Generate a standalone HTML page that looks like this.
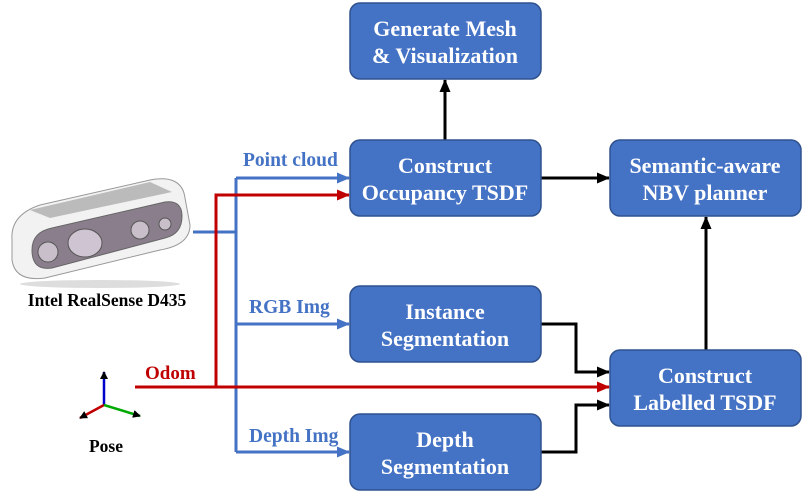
<!DOCTYPE html>
<html><head><meta charset="utf-8"><style>
html,body{margin:0;padding:0;background:#fff;width:807px;height:495px;overflow:hidden}
svg{display:block}
.bx{fill:#4472C4;stroke:#2F528F;stroke-width:1.5}
.t{font-family:"Liberation Serif",serif;font-weight:bold;font-size:22px;fill:#fff;text-anchor:middle}
.l{font-family:"Liberation Serif",serif;font-weight:bold;font-size:19.5px;fill:#4472C4}
.k{font-family:"Liberation Serif",serif;font-weight:bold;font-size:17.5px;fill:#000;text-anchor:middle}
</style></head><body>
<svg width="807" height="495" viewBox="0 0 807 495">
<defs>
<marker id="ab" markerWidth="8" markerHeight="8" refX="7" refY="4" orient="auto" markerUnits="userSpaceOnUse"><path d="M0,0L8,4L0,8z" fill="#000"/></marker>
<marker id="ar" markerWidth="13" markerHeight="11" refX="12" refY="5.5" orient="auto" markerUnits="userSpaceOnUse"><path d="M0,0L13,5.5L0,11z" fill="#C00000"/></marker>
<marker id="au" markerWidth="13" markerHeight="11" refX="12" refY="5.5" orient="auto" markerUnits="userSpaceOnUse"><path d="M0,0L13,5.5L0,11z" fill="#4472C4"/></marker>
<marker id="ak" markerWidth="13" markerHeight="11" refX="12" refY="5.5" orient="auto" markerUnits="userSpaceOnUse"><path d="M0,0L13,5.5L0,11z" fill="#000"/></marker>
</defs>
<g>
<path d="M12,240 Q10,215 40,205 L150,180 Q182,174 185,198 L190,225 Q190,245 160,250 L45,278 Q15,282 12,260 Z" fill="#f2f2f2" stroke="#999" stroke-width="1"/>
<path d="M30,210 L150,182 L172,192 L50,218 Z" fill="#bbb"/>
<path d="M32,250 Q32,232 52,228 L165,202 Q182,200 182,216 Q182,234 165,238 L52,268 Q32,271 32,250 Z" fill="#8a7e8c" stroke="#666"/>
<ellipse cx="48" cy="252" rx="10" ry="10" fill="#c9bfcb" stroke="#555"/>
<ellipse cx="85" cy="243" rx="17" ry="14" fill="#cfc4d1" stroke="#555"/>
<ellipse cx="140" cy="230" rx="9" ry="9" fill="#c9bfcb" stroke="#555"/>
<ellipse cx="165" cy="224" rx="6" ry="6" fill="#c9bfcb" stroke="#555"/>
<ellipse cx="100" cy="284" rx="80" ry="4" fill="#ddd"/>
</g>
<text class="k" x="107" y="306">Intel RealSense D435</text>
<line x1="104" y1="405" x2="104" y2="372" stroke="#0000CC" stroke-width="2.5" marker-end="url(#ab)"/>
<line x1="104" y1="405" x2="80" y2="418" stroke="#C00000" stroke-width="2.5" marker-end="url(#ab)"/>
<line x1="104" y1="405" x2="140" y2="416" stroke="#00AA00" stroke-width="2.5" marker-end="url(#ab)"/>
<text class="k" x="106" y="452">Pose</text>
<g stroke="#4472C4" stroke-width="3" fill="none">
<line x1="193" y1="232" x2="236" y2="232"/>
<line x1="236" y1="178" x2="236" y2="452"/>
<line x1="236" y1="178" x2="349" y2="178" marker-end="url(#au)"/>
<line x1="236" y1="324" x2="349" y2="324" marker-end="url(#au)"/>
<line x1="236" y1="452" x2="349" y2="452" marker-end="url(#au)"/>
</g>
<g stroke="#C00000" stroke-width="3" fill="none">
<line x1="135" y1="387" x2="609" y2="387" marker-end="url(#ar)"/>
<polyline points="216,387 216,195 349,195" marker-end="url(#ar)"/>
</g>
<text class="l" x="243" y="166">Point cloud</text>
<text class="l" x="249" y="313">RGB Img</text>
<text class="l" x="249" y="442">Depth Img</text>
<text x="145" y="379" style="font-family:'Liberation Serif',serif;font-weight:bold;font-size:19px;fill:#C00000">Odom</text>
<g stroke="#000" stroke-width="3" fill="none">
<line x1="445" y1="140" x2="445" y2="80" marker-end="url(#ak)"/>
<line x1="541" y1="178" x2="609" y2="178" marker-end="url(#ak)"/>
<line x1="706" y1="350" x2="706" y2="217" marker-end="url(#ak)"/>
<polyline points="541,324 576,324 576,372 609,372" marker-end="url(#ak)"/>
<polyline points="541,452 576,452 576,405 609,405" marker-end="url(#ak)"/>
</g>
<rect class="bx" x="350" y="3" width="191" height="76" rx="10"/>
<text class="t" x="445" y="36">Generate Mesh</text><text class="t" x="445" y="63">&amp; Visualization</text>
<rect class="bx" x="350" y="140" width="191" height="76" rx="10"/>
<text class="t" x="445" y="173">Construct</text><text class="t" x="445" y="200">Occupancy TSDF</text>
<rect class="bx" x="610" y="140" width="191" height="76" rx="10"/>
<text class="t" x="705" y="173">Semantic-aware</text><text class="t" x="705" y="200">NBV planner</text>
<rect class="bx" x="350" y="286" width="191" height="76" rx="10"/>
<text class="t" x="445" y="319">Instance</text><text class="t" x="445" y="346">Segmentation</text>
<rect class="bx" x="610" y="350" width="191" height="76" rx="10"/>
<text class="t" x="705" y="383">Construct</text><text class="t" x="705" y="410">Labelled TSDF</text>
<rect class="bx" x="350" y="414" width="191" height="76" rx="10"/>
<text class="t" x="445" y="447">Depth</text><text class="t" x="445" y="474">Segmentation</text>
</svg>
</body></html>
